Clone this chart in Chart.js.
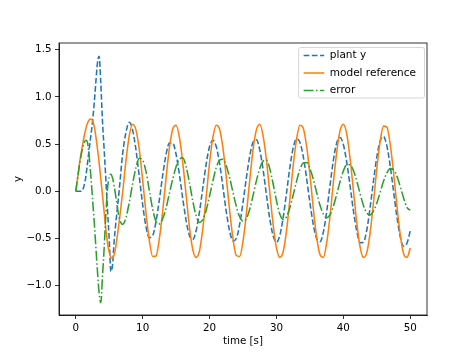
<!DOCTYPE html>
<html><head><meta charset="utf-8">
<script src="https://cdn.jsdelivr.net/npm/chart.js@4/dist/chart.umd.min.js"></script>
<style>html,body{margin:0;padding:0;background:#fff;}canvas{display:block;}</style>
</head><body>
<canvas id="c" width="474" height="355"></canvas>
<script>
const time = [0,0.25,0.5,0.75,1,1.25,1.5,1.75,2,2.25,2.5,2.75,3,3.25,3.5,3.75,4,4.25,4.5,4.75,5,5.25,5.5,5.75,6,
  6.5,7,7.5,8,8.5,9,9.5,10,10.5,11,11.5,12,12.5,13,13.5,14,14.5,15,15.5,16,16.5,17,17.5,18,18.5,19,19.5,20,
  20.5,21,21.5,22,22.5,23,23.5,24,24.5,25,25.5,26,26.5,27,27.5,28,28.5,29,29.5,30,30.5,31,31.5,32,32.5,33,
  33.5,34,34.5,35,35.5,36,36.5,37,37.5,38,38.5,39,39.5,40,40.5,41,41.5,42,42.5,43,43.5,44,44.5,45,45.5,46,
  46.5,47,47.5,48,48.5,49,49.5,50];
const plantY = [0,0,0,0,0.01,0.06,0.15,0.29,0.44,0.58,0.73,0.92,1.15,1.36,1.43,1.14,0.74,0.44,0.13,-0.2,-0.5,-0.85,-0.78,-0.52,-0.33,
  0.01,0.39,0.62,0.73,0.65,0.44,0.155,-0.14,-0.375,-0.49,-0.47,-0.32,-0.09,0.17,0.39,0.51,0.51,0.39,0.175,-0.08,
  -0.31,-0.47,-0.51,-0.415,-0.215,0.04,0.29,0.475,0.54,0.475,0.295,0.045,-0.215,-0.42,-0.525,-0.5,-0.35,-0.12,
  0.14,0.37,0.52,0.545,0.44,0.23,-0.035,-0.29,-0.47,-0.54,-0.47,-0.28,-0.02,0.25,0.46,0.555,0.52,0.37,0.14,
  -0.12,-0.35,-0.5,-0.535,-0.435,-0.22,0.06,0.325,0.51,0.57,0.495,0.31,0.06,-0.205,-0.42,-0.545,-0.54,-0.41,
  -0.17,0.11,0.365,0.535,0.58,0.48,0.27,0.0,-0.27,-0.48,-0.58,-0.55,-0.42];
const modelReference = [0,0.12,0.26,0.38,0.48,0.58,0.66,0.72,0.755,0.765,0.75,0.69,0.585,0.45,0.3,0.13,-0.04,-0.22,-0.4,-0.54,-0.645,-0.7,-0.71,-0.67,-0.58,
  -0.32,-0.02,0.32,0.59,0.71,0.65,0.44,0.12,-0.23,-0.52,-0.69,-0.685,-0.5,-0.21,0.14,0.46,0.66,0.7,0.57,0.3,
  -0.04,-0.38,-0.62,-0.7,-0.63,-0.39,-0.06,0.3,0.57,0.7,0.66,0.46,0.15,-0.2,-0.5,-0.68,-0.69,-0.53,
  -0.24,0.11,0.44,0.65,0.71,0.59,0.33,-0.01,-0.35,-0.6,-0.7,-0.64,-0.42,-0.09,0.27,0.55,0.7,0.67,0.48,
  0.18,-0.18,-0.48,-0.67,-0.7,-0.55,-0.27,0.09,0.41,0.64,0.71,0.61,0.35,0.01,-0.33,-0.59,-0.7,-0.65,
  -0.44,-0.12,0.24,0.53,0.69,0.68,0.5,0.2,-0.15,-0.46,-0.66,-0.7,-0.6];
const errorSignal = [0,0.12,0.25,0.36,0.45,0.51,0.54,0.52,0.38,0.17,-0.07,-0.31,-0.58,-0.85,-1.08,-1.18,-0.9,-0.6,-0.25,0.03,0.15,0.18,0.14,0.055,-0.06,
  -0.28,-0.35,-0.28,-0.12,0.08,0.25,0.35,0.33,0.21,0.01,-0.19,-0.32,-0.345,-0.29,-0.18,-0.02,0.13,0.26,0.34,0.355,
  0.26,0.09,-0.105,-0.26,-0.33,-0.3,-0.2,-0.05,0.11,0.25,0.33,0.34,0.27,0.145,-0.01,-0.16,-0.27,-0.317,
  -0.29,-0.19,-0.045,0.11,0.24,0.32,0.33,0.24,0.08,-0.1,-0.24,-0.3,-0.27,-0.175,-0.04,0.105,0.23,0.3,0.305,
  0.24,0.13,-0.01,-0.145,-0.24,-0.28,-0.25,-0.16,-0.035,0.1,0.215,0.28,0.28,0.22,0.11,-0.025,-0.15,-0.23,
  -0.25,-0.21,-0.125,-0.01,0.105,0.195,0.24,0.23,0.16,0.05,-0.07,-0.17,-0.2];
const seriesLabels = ['plant y', 'model reference', 'error'];
const xTicks = [0, 10, 20, 30, 40, 50];
const yTicks = [-1.0, -0.5, 0.0, 0.5, 1.0, 1.5];
const xLabel = 'time [s]';
const yLabel = 'y';

const FONT = '"DejaVu Sans", "Liberation Sans", sans-serif';
const FS = 10.3;
const LFS = 10.5;
const pts = arr => arr.map((v, i) => ({x: time[i], y: v}));

const framePlugin = {
  id: 'frame',
  afterDatasetsDraw(chart) {
    const {ctx, chartArea: a} = chart;
    ctx.save();
    ctx.strokeStyle = '#000';
    ctx.lineWidth = 0.8;
    ctx.strokeRect(a.left, a.top, a.right - a.left, a.bottom - a.top);
    ctx.restore();
  }
};

const legendPlugin = {
  id: 'mplLegend',
  afterDraw(chart) {
    const {ctx, chartArea: a} = chart;
    const ds = chart.data.datasets;
    ctx.save();
    ctx.font = LFS + 'px ' + FONT;
    const textW = Math.max(...ds.map(d => ctx.measureText(d.label).width));
    const padL = 5, padR = 8.5, handle = 20.6, hpad = 5.6, row = 17.5;
    const w = padL + handle + hpad + textW + padR;
    const h = 8 + row * (ds.length - 1) + 7.5;
    const left = a.right - 2.5 - w, top = a.top + 4.5;
    ctx.beginPath();
    ctx.roundRect(left, top, w, h, 2);
    ctx.fillStyle = 'rgba(255,255,255,0.8)';
    ctx.fill();
    ctx.strokeStyle = 'rgba(204,204,204,0.8)';
    ctx.lineWidth = 1;
    ctx.stroke();
    ds.forEach((d, i) => {
      const cy = top + 8 + i * row;
      ctx.beginPath();
      ctx.setLineDash(d.borderDash || []);
      ctx.strokeStyle = d.borderColor;
      ctx.lineWidth = d.borderWidth;
      ctx.moveTo(left + padL, cy);
      ctx.lineTo(left + padL + handle, cy);
      ctx.stroke();
      ctx.setLineDash([]);
      ctx.fillStyle = '#000';
      ctx.textBaseline = 'middle';
      ctx.textAlign = 'left';
      ctx.fillText(d.label, left + padL + handle + hpad, cy);
    });
    ctx.restore();
  }
};

const fmtMinus = s => s.replace('-', '\u2212');

new Chart(document.getElementById('c'), {
  type: 'line',
  data: {
    datasets: [
      {label: seriesLabels[0], data: pts(plantY), borderColor: '#1f77b4', borderWidth: 1.55, borderDash: [5.7, 2.5], order: 3},
      {label: seriesLabels[1], data: pts(modelReference), borderColor: '#ff7f0e', borderWidth: 1.55, order: 2},
      {label: seriesLabels[2], data: pts(errorSignal), borderColor: '#2ca02c', borderWidth: 1.55, borderDash: [9.9, 2.5, 1.5, 2.5], order: 1}
    ]
  },
  options: {
    responsive: false,
    animation: false,
    events: [],
    elements: {point: {radius: 0}, line: {cubicInterpolationMode: 'monotone', fill: false}},
    layout: {padding: {top: 43, right: 47, left: 0, bottom: 0}},
    plugins: {legend: {display: false}, tooltip: {enabled: false}},
    scales: {
      x: {
        type: 'linear', min: -2.5, max: 52.5,
        afterBuildTicks: s => { s.ticks = xTicks.map(v => ({value: v})); },
        afterFit: s => { s.height = 40; },
        ticks: {color: '#000', font: {family: FONT, size: FS}, padding: 3, maxRotation: 0, autoSkip: false,
          callback: v => fmtMinus(String(v))},
        grid: {display: true, drawOnChartArea: false, drawTicks: true, tickLength: 4, color: '#000', lineWidth: 0.8},
        border: {display: true, color: '#000', width: 0.8},
        title: {display: true, text: xLabel, color: '#000', font: {family: FONT, size: FS}, padding: {top: 0, bottom: 7}}
      },
      y: {
        type: 'linear', min: -1.31, max: 1.57,
        afterBuildTicks: s => { s.ticks = yTicks.map(v => ({value: v})); },
        afterFit: s => { s.width = 59; },
        ticks: {color: '#000', font: {family: FONT, size: FS}, padding: 3.5, autoSkip: false,
          callback: v => fmtMinus(Number(v).toFixed(1))},
        grid: {display: true, drawOnChartArea: false, drawTicks: true, tickLength: 4, color: '#000', lineWidth: 0.8},
        border: {display: true, color: '#000', width: 0.8},
        title: {display: true, text: yLabel, color: '#000', font: {family: FONT, size: FS}, padding: {top: 12, bottom: 0}}
      }
    }
  },
  plugins: [framePlugin, legendPlugin]
});
</script>
</body></html>
